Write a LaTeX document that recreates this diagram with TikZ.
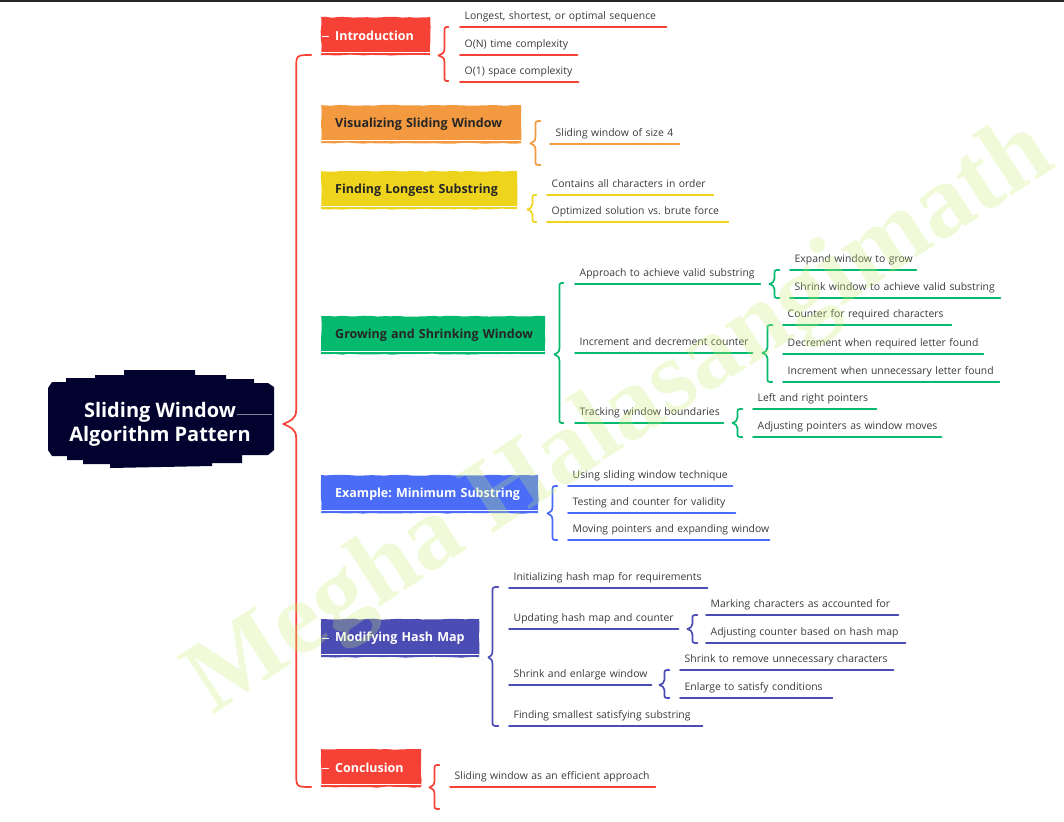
\documentclass[tikz,border=0pt]{standalone}
\usepackage{fontspec}
\setmainfont{Open Sans}
\newfontfamily\markfont{Liberation Serif}
\usetikzlibrary{calc,decorations.pathmorphing}
\AtBeginDocument{\frenchspacing}

\definecolor{mapnavy}{HTML}{02022E}
\definecolor{mapred}{HTML}{F64236}
\definecolor{maporange}{HTML}{F3993F}
\definecolor{mapyellow}{HTML}{EFD41E}
\definecolor{mapgreen}{HTML}{05B96F}
\definecolor{mapblue}{HTML}{4A6CF7}
\definecolor{mapindigo}{HTML}{4C4CB5}
\definecolor{mapmark}{HTML}{C8EE70}
\definecolor{mapink}{HTML}{3A3A3A}

% name, colour, parent anchor, gap, spine offset, end offset, top y, bottom y, bend
\newcommand{\curly}[9]{
  \coordinate (#1tip) at ($(#3)+(#4,0)$);
  \coordinate (#1top) at ($(#1tip |- 0,#7)+(#6,0)$);
  \coordinate (#1bot) at ($(#1tip |- 0,#8)+(#6,0)$);
  \draw [brace=#2] (#1top) .. controls ($(#1tip |- #1top)+(#5,0)$) and ($(#1tip |- #1top)+(#5,0)$) .. ($(#1tip |- #1top)+(#5,#9)$)
    -- ($(#1tip)+(#5,-#9)$) .. controls ($(#1tip)+(#5,-#9/3)$) and ($(#1tip)+(#5/2,-#9/5)$) .. (#1tip)
    .. controls ($(#1tip)+(#5/2,#9/5)$) and ($(#1tip)+(#5,#9/3)$) .. ($(#1tip)+(#5,#9)$)
    -- ($(#1tip |- #1bot)+(#5,-#9)$) .. controls ($(#1tip |- #1bot)+(#5,0)$) and ($(#1tip |- #1bot)+(#5,0)$) .. (#1bot);
}

\begin{document}
\begin{tikzpicture}[x=1pt,y=-1pt,
    brace/.style={color=#1,line width=1.7pt,line cap=round,line join=round},
    rule/.style={color=#1,line width=2pt,line cap=round},
    topic/.style n args={3}{anchor=north west,fill=#1,text=#2,minimum height=38pt,inner xsep=14pt,inner ysep=0pt,
      text width=#3pt-28pt,align=left,font=\fontsize{12.5}{15}\selectfont\bfseries,
      execute at begin node=\hbox\bgroup,execute at end node=\egroup,
      decorate,decoration={random steps,segment length=7pt,amplitude=.5pt}},
    leaf/.style={anchor=south west,inner sep=0pt,text width=#1pt,text height=8pt,text depth=7pt,align=left,
      text=mapink,font=\fontsize{10.4}{12}\selectfont,
      execute at begin node=\hspace*{4.5pt}\hbox\bgroup,execute at end node=\egroup},
    gloss/.style={color=white,line width=.6pt}]
    \useasboundingbox (0,0) rectangle (1064,821);
    \pgfmathsetseed{7}
    \fill [color=black!85] (0,0) rectangle (1064,2);

    % root
    \fill [color=mapnavy] (48,388) -- (52,382) -- (66,382) -- (66,378) -- (95,378) -- (95,375) -- (124,375) -- (124,370)
      -- (195,370) -- (195,375) -- (226,375) -- (226,379) -- (254,379) -- (254,383) -- (268,383) -- (274,387)
      -- (274,450) -- (268,455) -- (242,455) -- (242,463) -- (212,463) -- (212,466) -- (110,468) -- (110,464)
      -- (83,464) -- (83,460) -- (67,460) -- (67,456) -- (52,456) -- (48,450) -- cycle;
    \node [align=center,color=white,minimum width=226pt,minimum height=98pt,font=\fontsize{20}{24}\selectfont\bfseries] (root) at (160,424) {Sliding Window\\Algorithm Pattern};
    \draw [gloss,line width=.3pt,opacity=.5] ($(root.east)+(-36,-10)$) -- ($(root.east)+(-1,-10)$);

    % main topics
    \node [topic={mapred}{white}{109}] (intro) at (321,17) {Introduction};
    \node [topic={maporange}{black!85}{200}] (visual) at (321,105) {Visualizing Sliding Window};
    \node [topic={mapyellow}{black!85}{196}] (longest) at (321,171) {Finding Longest Substring};
    \node [topic={mapgreen}{black!85}{224}] (growing) at (321,316) {Growing and Shrinking Window};
    \node [topic={mapblue}{white}{217}] (minimum) at (321,475) {Example: Minimum Substring};
    \node [topic={mapindigo}{white}{158}] (hashmap) at (321,619) {Modifying Hash Map};
    \node [topic={mapred}{white}{100}] (conclusion) at (321,749) {Conclusion};
    \draw [gloss] ($(intro.south west)+(0,-3)$) -- ($(intro.south east)+(0,-3)$);
    \draw [gloss] ($(visual.south west)+(0,-3)$) -- ($(visual.south east)+(0,-3)$);
    \draw [gloss] ($(longest.south west)+(0,-3)$) -- ($(longest.south east)+(0,-3)$);
    \draw [gloss] ($(growing.south west)+(0,-3)$) -- ($(growing.south east)+(0,-3)$);
    \draw [gloss] ($(minimum.south west)+(0,-3)$) -- ($(minimum.south east)+(0,-3)$);
    \draw [gloss] ($(hashmap.south west)+(0,-3)$) -- ($(hashmap.south east)+(0,-3)$);
    \draw [gloss] ($(conclusion.south west)+(0,-3)$) -- ($(conclusion.south east)+(0,-3)$);
    \draw [gloss] ($(intro.west)+(1,0)$) -- ($(intro.west)+(8,0)$);
    \draw [gloss] ($(hashmap.west)+(1,0)$) -- ($(hashmap.west)+(8,0)$);
    \draw [gloss] ($(conclusion.west)+(1,0)$) -- ($(conclusion.west)+(8,0)$);

    \curly{main}{mapred}{root.east}{10}{13}{28}{55}{787}{14}

    % introduction
    \node [leaf=206] (sequence) at (460,27) {Longest, shortest, or optimal sequence};
    \node [leaf=117] (timeorder) at (460,55) {O(N) time complexity};
    \node [leaf=118] (spaceorder) at (460,82) {O(1) space complexity};
    \draw [rule=mapred] (sequence.south west) -- (sequence.south east);
    \draw [rule=mapred] (timeorder.south west) -- (timeorder.south east);
    \draw [rule=mapred] (spaceorder.south west) -- (spaceorder.south east);
    \curly{introb}{mapred}{intro.south east}{8}{6}{10}{27}{81}{6}

    % visualizing
    \node [leaf=129] (sizefour) at (550,144) {\hspace*{1pt}Sliding window of size 4};
    \draw [rule=maporange] (sizefour.south west) -- (sizefour.south east);
    \curly{visualb}{maporange}{visual.south east}{9}{5}{10}{121}{165}{6}

    % longest substring
    \node [leaf=166] (inorder) at (547,195) {Contains all characters in order};
    \node [leaf=181] (optimized) at (547,222) {Optimized solution vs. brute force};
    \draw [rule=mapyellow] (inorder.south west) -- (inorder.south east);
    \draw [rule=mapyellow] (optimized.south west) -- (optimized.south east);
    \curly{longestb}{mapyellow}{longest.south east}{10}{5}{9}{195}{222}{5}

    % growing and shrinking
    \node [leaf=185] (approach) at (575,284) {Approach to achieve valid substring};
    \node [leaf=177] (counter) at (575,353) {Increment and decrement counter};
    \node [leaf=148] (tracking) at (575,423) {Tracking window boundaries};
    \draw [rule=mapgreen] (approach.south west) -- (approach.south east);
    \draw [rule=mapgreen] (counter.south west) -- (counter.south east);
    \draw [rule=mapgreen] (tracking.south west) -- (tracking.south east);
    \curly{growingb}{mapgreen}{growing.south east}{9}{5}{9}{283}{423}{6}

    \node [leaf=126] (expand) at (790,270) {Expand window to grow};
    \node [leaf=210] (shrinkvalid) at (790,298) {Shrink window to achieve valid substring};
    \draw [rule=mapgreen] (expand.south west) -- (expand.south east);
    \draw [rule=mapgreen] (shrinkvalid.south west) -- (shrinkvalid.south east);
    \curly{approachb}{mapgreen}{approach.south east}{9}{5}{10}{270}{298}{5}

    \node [leaf=168] (required) at (783,325) {Counter for required characters};
    \node [leaf=200] (decrement) at (783,354) {Decrement when required letter found};
    \node [leaf=216] (increment) at (783,382) {Increment when unnecessary letter found};
    \draw [rule=mapgreen] (required.south west) -- (required.south east);
    \draw [rule=mapgreen] (decrement.south west) -- (decrement.south east);
    \draw [rule=mapgreen] (increment.south west) -- (increment.south east);
    \curly{counterb}{mapgreen}{counter.south east}{10}{5}{10}{325}{382}{5}

    \node [leaf=123] (pointers) at (753,409) {Left and right pointers};
    \node [leaf=188] (adjusting) at (753,437) {Adjusting pointers as window moves};
    \draw [rule=mapgreen] (pointers.south west) -- (pointers.south east);
    \draw [rule=mapgreen] (adjusting.south west) -- (adjusting.south east);
    \curly{trackingb}{mapgreen}{tracking.south east}{9}{5}{10}{409}{437}{5}

    % minimum substring
    \node [leaf=164] (technique) at (568,486) {Using sliding window technique};
    \node [leaf=167] (validity) at (568,513) {Testing and counter for validity};
    \node [leaf=201] (moving) at (568,540) {Moving pointers and expanding window};
    \draw [rule=mapblue] (technique.south west) -- (technique.south east);
    \draw [rule=mapblue] (validity.south west) -- (validity.south east);
    \draw [rule=mapblue] (moving.south west) -- (moving.south east);
    \curly{minimumb}{mapblue}{minimum.south east}{9}{5}{10}{486}{540}{6}

    % hash map
    \node [leaf=198] (initializing) at (509,588) {Initializing hash map for requirements};
    \node [leaf=169] (updating) at (509,629) {Updating hash map and counter};
    \node [leaf=142] (enlarge) at (509,685) {Shrink and enlarge window};
    \node [leaf=193] (smallest) at (509,726) {Finding smallest satisfying substring};
    \draw [rule=mapindigo] (initializing.south west) -- (initializing.south east);
    \draw [rule=mapindigo] (updating.south west) -- (updating.south east);
    \draw [rule=mapindigo] (enlarge.south west) -- (enlarge.south east);
    \draw [rule=mapindigo] (smallest.south west) -- (smallest.south east);
    \curly{hashmapb}{mapindigo}{hashmap.south east}{9}{4}{10}{587}{726}{6}

    \node [leaf=192] (marking) at (706,615) {Marking characters as accounted for};
    \node [leaf=199] (based) at (706,643) {Adjusting counter based on hash map};
    \draw [rule=mapindigo] (marking.south west) -- (marking.south east);
    \draw [rule=mapindigo] (based.south west) -- (based.south east);
    \curly{updatingb}{mapindigo}{updating.south east}{9}{5}{10}{615}{643}{5}

    \node [leaf=213] (remove) at (680,670) {Shrink to remove unnecessary characters};
    \node [leaf=152] (satisfy) at (680,698) {Enlarge to satisfy conditions};
    \draw [rule=mapindigo] (remove.south west) -- (remove.south east);
    \draw [rule=mapindigo] (satisfy.south west) -- (satisfy.south east);
    \curly{enlargeb}{mapindigo}{enlarge.south east}{8}{5}{10}{670}{698}{5}

    % conclusion
    \node [leaf=205] (efficient) at (450,787) {Sliding window as an efficient approach};
    \draw [rule=mapred] (efficient.south west) -- (efficient.south east);
    \curly{conclusionb}{mapred}{conclusion.south east}{8}{5}{10}{765}{809}{6}

    % watermark last, it lies over everything
    \node [rotate=33,color=mapmark,opacity=.27,font=\markfont\fontsize{104}{110}\selectfont\bfseries] (watermark) at (622,420) {Megha Halasangimath};
\end{tikzpicture}
\end{document}
